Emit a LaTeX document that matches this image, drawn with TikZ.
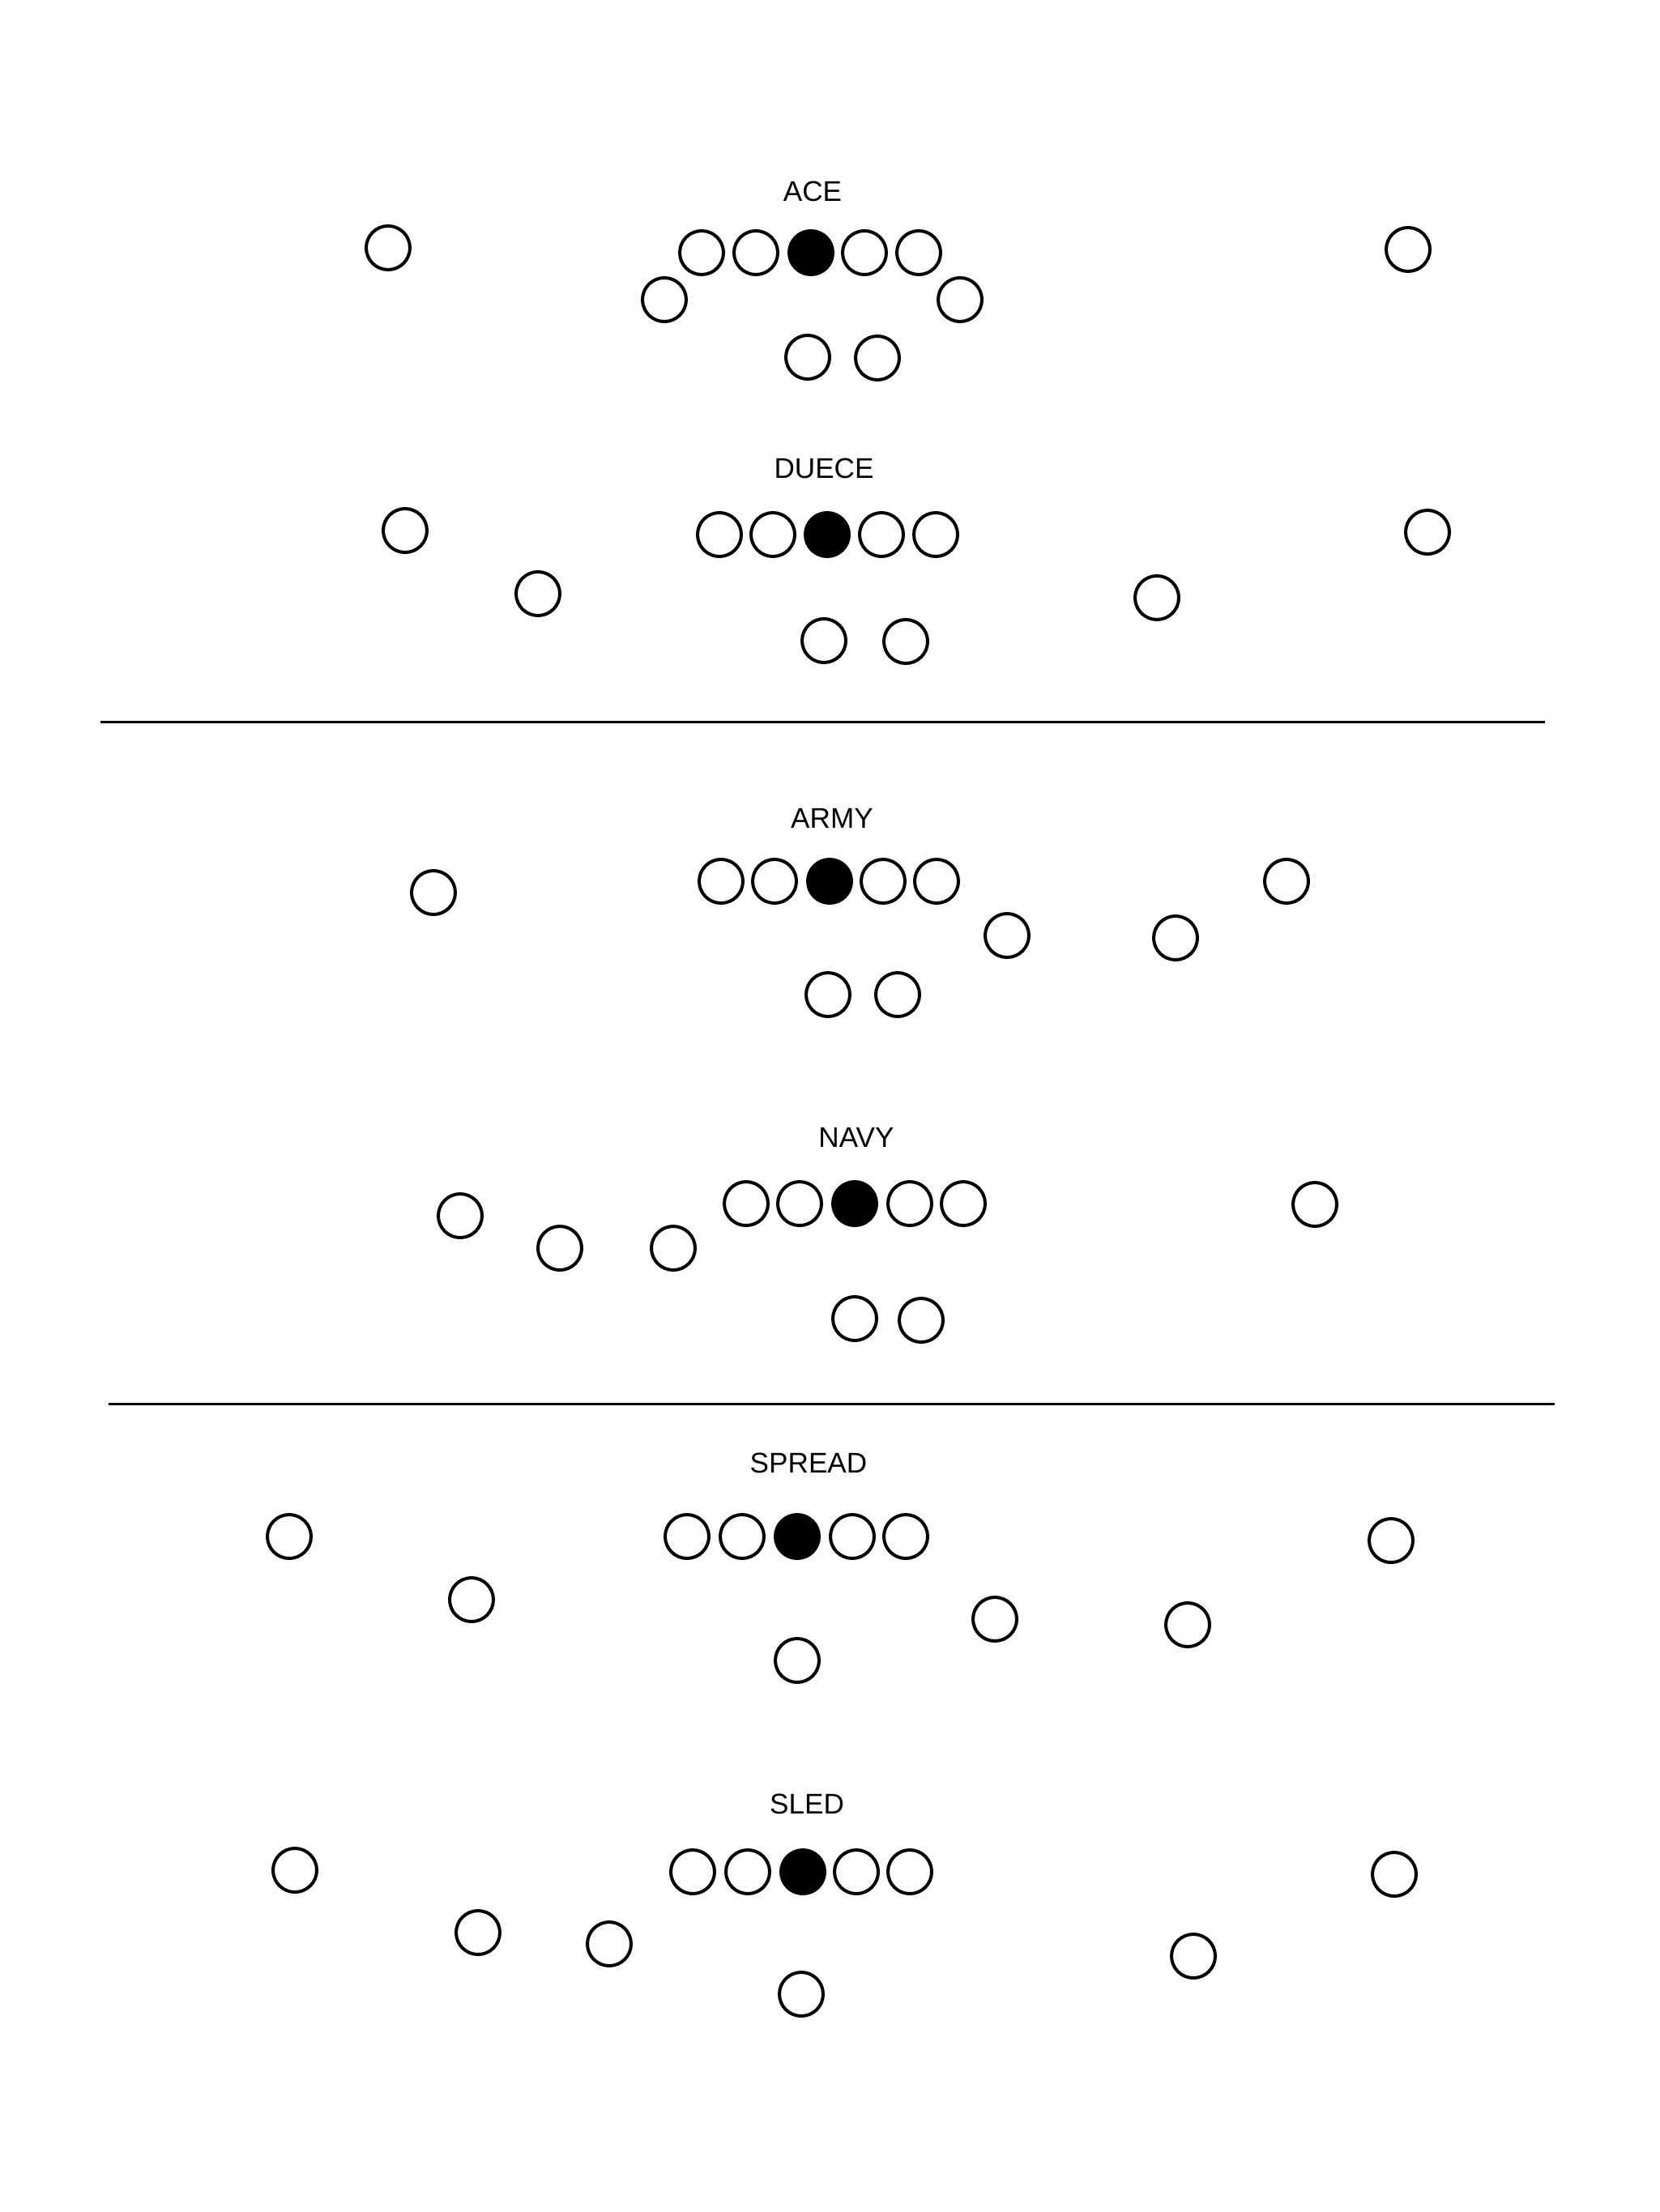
\documentclass[tikz,border=0pt]{standalone}
\usepackage{fontspec}
\setmainfont{Liberation Sans}
\usepackage{tikz}
\usetikzlibrary{calc}
\usetikzlibrary{positioning}

\tikzset{
  player/.style={circle,draw=black,line width=0.4mm,minimum size=5.4mm,inner sep=0pt},
  center/.style={player,fill=black},
  title/.style={font=\fontsize{10}{12}\selectfont,inner sep=0pt},
  divider/.style={line width=0.3mm}
}

\begin{document}
\begin{tikzpicture}
    \useasboundingbox (0,0) rectangle (20.48,-27.31);

    % ACE
    \node [title] (ace) at (10.03,-2.36) {ACE};
    \node [player] (ace-lg) at (8.66,-3.12) {};
    \node [player] (ace-lt) at (9.33,-3.12) {};
    \node [center] (ace-c)  at (10.01,-3.12) {};
    \node [player] (ace-rt) at (10.67,-3.12) {};
    \node [player] (ace-rg) at (11.34,-3.12) {};
    \node [player] (ace-te1) at (8.20,-3.70) {};
    \node [player] (ace-te2) at (11.85,-3.70) {};
    \node [player] (ace-qb) at (9.97,-4.41) {};
    \node [player] (ace-rb) at (10.83,-4.42) {};
    \node [player] (ace-wr1) at (4.79,-3.06) {};
    \node [player] (ace-wr2) at (17.38,-3.08) {};

    % DUECE
    \node [title] (duece) at (10.17,-5.78) {DUECE};
    \node [player] (duece-lg) at (8.88,-6.60) {};
    \node [player] (duece-lt) at (9.54,-6.60) {};
    \node [center] (duece-c)  at (10.21,-6.60) {};
    \node [player] (duece-rt) at (10.88,-6.60) {};
    \node [player] (duece-rg) at (11.55,-6.60) {};
    \node [player] (duece-wr1) at (5.00,-6.55) {};
    \node [player] (duece-sl1) at (6.64,-7.33) {};
    \node [player] (duece-sl2) at (14.28,-7.38) {};
    \node [player] (duece-wr2) at (17.62,-6.57) {};
    \node [player] (duece-qb) at (10.17,-7.91) {};
    \node [player] (duece-rb) at (11.18,-7.92) {};

    \coordinate (rule1-w) at (1.24,-8.91);
    \coordinate (rule1-e) at (19.07,-8.91);
    \draw [divider] (rule1-w) -- (rule1-e);

    % ARMY
    \node [title] (army) at (10.27,-10.10) {ARMY};
    \node [player] (army-lg) at (8.90,-10.88) {};
    \node [player] (army-lt) at (9.56,-10.88) {};
    \node [center] (army-c)  at (10.24,-10.88) {};
    \node [player] (army-rt) at (10.90,-10.88) {};
    \node [player] (army-rg) at (11.56,-10.88) {};
    \node [player] (army-wr1) at (5.35,-11.02) {};
    \node [player] (army-sl1) at (12.43,-11.55) {};
    \node [player] (army-sl2) at (14.51,-11.58) {};
    \node [player] (army-wr2) at (15.88,-10.88) {};
    \node [player] (army-qb) at (10.22,-12.28) {};
    \node [player] (army-rb) at (11.08,-12.28) {};

    % NAVY
    \node [title] (navy) at (10.57,-14.04) {NAVY};
    \node [player] (navy-lg) at (9.21,-14.86) {};
    \node [player] (navy-lt) at (9.87,-14.86) {};
    \node [center] (navy-c)  at (10.55,-14.86) {};
    \node [player] (navy-rt) at (11.23,-14.86) {};
    \node [player] (navy-rg) at (11.89,-14.86) {};
    \node [player] (navy-wr1) at (5.68,-15.01) {};
    \node [player] (navy-sl1) at (6.91,-15.41) {};
    \node [player] (navy-sl2) at (8.31,-15.41) {};
    \node [player] (navy-wr2) at (16.23,-14.87) {};
    \node [player] (navy-qb) at (10.55,-16.28) {};
    \node [player] (navy-rb) at (11.37,-16.30) {};

    \coordinate (rule2-w) at (1.34,-17.33);
    \coordinate (rule2-e) at (19.19,-17.33);
    \draw [divider] (rule2-w) -- (rule2-e);

    % SPREAD
    \node [title] (spread) at (9.98,-18.06) {SPREAD};
    \node [player] (spread-lg) at (8.48,-18.97) {};
    \node [player] (spread-lt) at (9.16,-18.97) {};
    \node [center] (spread-c)  at (9.84,-18.97) {};
    \node [player] (spread-rt) at (10.52,-18.97) {};
    \node [player] (spread-rg) at (11.18,-18.97) {};
    \node [player] (spread-wr1) at (3.57,-18.97) {};
    \node [player] (spread-sl1) at (5.82,-19.75) {};
    \node [player] (spread-qb) at (9.84,-20.50) {};
    \node [player] (spread-sl2) at (12.28,-19.99) {};
    \node [player] (spread-sl3) at (14.66,-20.06) {};
    \node [player] (spread-wr2) at (17.17,-19.02) {};

    % SLED
    \node [title] (sled) at (9.96,-22.27) {SLED};
    \node [player] (sled-lg) at (8.55,-23.11) {};
    \node [player] (sled-lt) at (9.23,-23.11) {};
    \node [center] (sled-c)  at (9.91,-23.11) {};
    \node [player] (sled-rt) at (10.57,-23.11) {};
    \node [player] (sled-rg) at (11.23,-23.11) {};
    \node [player] (sled-wr1) at (3.64,-23.09) {};
    \node [player] (sled-sl1) at (5.90,-23.86) {};
    \node [player] (sled-sl2) at (7.52,-24.00) {};
    \node [player] (sled-qb) at (9.89,-24.62) {};
    \node [player] (sled-sl3) at (14.73,-24.15) {};
    \node [player] (sled-wr2) at (17.21,-23.14) {};
\end{tikzpicture}
\end{document}
